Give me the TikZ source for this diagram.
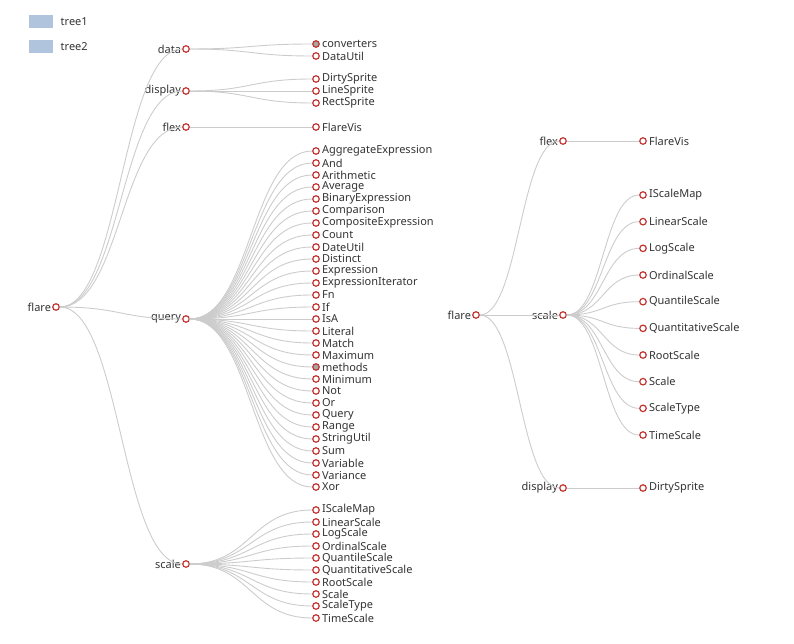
\documentclass[tikz,border=0pt]{standalone}
\usepackage{fontspec}
\setmainfont{Noto Sans}
\usetikzlibrary{positioning}
\definecolor{dotred}{HTML}{C23531}
\definecolor{edgegrey}{HTML}{CCCCCC}
\definecolor{txt}{HTML}{333333}
\definecolor{legblue}{HTML}{B0C4DE}
\begin{document}
\begin{tikzpicture}[x=1pt,y=-1pt,
        dot/.style={circle, draw=dotred, fill=white, line width=1.2pt, inner sep=0pt, minimum size=6.5pt},
        full/.style={dot, fill=gray!70},
        lft/.style={label={[txt,font=\fontsize{11}{12}\selectfont,inner sep=1pt]left:#1}},
        rgt/.style={label={[txt,font=\fontsize{11}{12}\selectfont,inner sep=2pt]right:#1}},
        edge/.style={draw=edgegrey, line width=0.9pt},
        leg/.style={fill=legblue, minimum width=24pt, minimum height=13pt, inner sep=0pt},
        legtext/.style={txt, font=\fontsize{11}{12}\selectfont, anchor=west}
    ]
    \useasboundingbox (0,0) rectangle (794,644);
    % legend
    \node[leg] (l1) at (41,22) {};
    \node[legtext] (t1) [right=4pt of l1] {tree1};
    \node[leg] (l2) at (41,47) {};
    \node[legtext] (t2) [right=4pt of l2] {tree2};

    % tree1
    \node[dot, lft=flare]   (a)   at (56,307) {};
    \node[dot, lft=data]    (ad)  at (186,49) {};
    \node[dot, lft=display] (ads) at (186,91) {};
    \node[dot, lft=flex]    (af)  at (186,127) {};
    \node[dot, lft=query]   (aq)  at (186,319) {};
    \node[dot, lft=scale]   (as)  at (186,564) {};
    \foreach \c in {ad,ads,af,aq,as}
        \draw[edge] (a) .. controls +(65,0) and +(-65,0) .. (\c);

    \node[full, rgt=converters] (ad1) at (316,44) {};
    \node[dot, rgt=DataUtil]    (ad2) at (316,56) {};
    \foreach \c in {ad1,ad2}
        \draw[edge] (ad) .. controls +(65,0) and +(-65,0) .. (\c);

    \foreach \t [count=\i] in {DirtySprite,LineSprite,RectSprite} {
        \node[dot, rgt=\t] (ads\i) at (316,67+12*\i) {};
        \draw[edge] (ads) .. controls +(65,0) and +(-65,0) .. (ads\i);
    }

    \node[dot, rgt=FlareVis] (af1) at (316,127) {};
    \draw[edge] (af) -- (af1);

    \foreach \t [count=\i] in {AggregateExpression,And,Arithmetic,Average,BinaryExpression,
        Comparison,CompositeExpression,Count,DateUtil,Distinct,Expression,ExpressionIterator,
        Fn,If,IsA,Literal,Match,Maximum,methods,Minimum,Not,Or,Query,Range,StringUtil,Sum,
        Variable,Variance,Xor} {
        \ifnum\i=19
            \node[full, rgt=\t] (aq\i) at (316,139+12*\i) {};
        \else
            \node[dot, rgt=\t] (aq\i) at (316,139+12*\i) {};
        \fi
        \draw[edge] (aq) .. controls +(65,0) and +(-65,0) .. (aq\i);
    }

    \foreach \t [count=\i] in {IScaleMap,LinearScale,LogScale,OrdinalScale,QuantileScale,
        QuantitativeScale,RootScale,Scale,ScaleType,TimeScale} {
        \node[dot, rgt=\t] (as\i) at (316,498+12*\i) {};
        \draw[edge] (as) .. controls +(65,0) and +(-65,0) .. (as\i);
    }

    % tree2
    \node[dot, lft=flare]   (b)   at (476,315) {};
    \node[dot, lft=flex]    (bf)  at (563,141) {};
    \node[dot, lft=scale]   (bs)  at (563,315) {};
    \node[dot, lft=display] (bd)  at (563,488) {};
    \foreach \c in {bf,bs,bd}
        \draw[edge] (b) .. controls +(43,0) and +(-43,0) .. (\c);

    \node[dot, rgt=FlareVis]    (bf1) at (643,141) {};
    \draw[edge] (bf) -- (bf1);
    \node[dot, rgt=DirtySprite] (bd1) at (643,488) {};
    \draw[edge] (bd) -- (bd1);

    \foreach \t [count=\i] in {IScaleMap,LinearScale,LogScale,OrdinalScale,QuantileScale,
        QuantitativeScale,RootScale,Scale,ScaleType,TimeScale} {
        \node[dot, rgt=\t] (bs\i) at (643,168.33+26.67*\i) {};
        \draw[edge] (bs) .. controls +(40,0) and +(-40,0) .. (bs\i);
    }
\end{tikzpicture}
\end{document}
